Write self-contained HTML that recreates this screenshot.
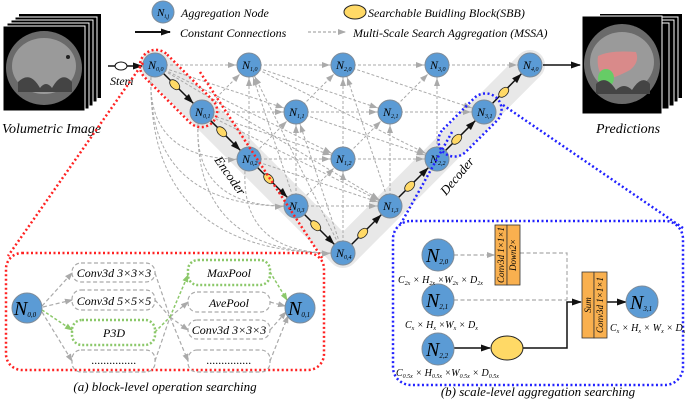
<!DOCTYPE html>
<html><head><meta charset="utf-8"><style>
html,body{margin:0;padding:0;background:#fff;}
svg{display:block;}
text{font-family:"Liberation Serif",serif;font-style:italic;}
</style></head><body>
<svg width="685" height="401" viewBox="0 0 685 401" xmlns="http://www.w3.org/2000/svg">
<defs>
<marker id="ag" markerWidth="8" markerHeight="6" refX="7" refY="3" orient="auto" markerUnits="userSpaceOnUse"><path d="M0,0 L8,3 L0,6z" fill="#aaa"/></marker>
<marker id="agn" markerWidth="8" markerHeight="6" refX="21" refY="3" orient="auto" markerUnits="userSpaceOnUse" overflow="visible"><path d="M0,0 L8,3 L0,6z" fill="#aaa"/></marker>
<marker id="ab" markerWidth="10" markerHeight="7" refX="9" refY="3.5" orient="auto" markerUnits="userSpaceOnUse"><path d="M0,0 L10,3.5 L0,7z" fill="#111"/></marker>
<marker id="abn" markerWidth="10" markerHeight="7" refX="22" refY="3.5" orient="auto" markerUnits="userSpaceOnUse" overflow="visible"><path d="M0,0 L10,3.5 L0,7z" fill="#111"/></marker>
<marker id="agr" markerWidth="8" markerHeight="6" refX="7" refY="3" orient="auto" markerUnits="userSpaceOnUse"><path d="M0,0 L8,3 L0,6z" fill="#8cc86a"/></marker>
</defs>

<!-- CT stacks -->
<g>
<rect x="19" y="14" width="82" height="84" fill="#000"/>
<rect x="15" y="17" width="82" height="85" fill="#000" stroke="#fff"/>
<rect x="11" y="20" width="82" height="86" fill="#000" stroke="#fff"/>
<rect x="7" y="23" width="82" height="86" fill="#000" stroke="#fff"/>
<rect x="3" y="26" width="82" height="85" fill="#000" stroke="#fff"/>
<ellipse cx="44" cy="68" rx="38" ry="37" fill="#6a6a6a"/>
<ellipse cx="44" cy="66" rx="32" ry="28" fill="#9a9a9a"/>
<path d="M18,82 Q30,70 40,88 Q46,80 52,88 Q62,70 72,82 L72,92 L18,92z" fill="#444"/>
<circle cx="68" cy="57" r="2" fill="#222"/>
</g>
<g>
<rect x="600" y="14" width="82" height="84" fill="#000"/>
<rect x="596" y="17" width="82" height="85" fill="#000" stroke="#fff"/>
<rect x="592" y="20" width="82" height="86" fill="#000" stroke="#fff"/>
<rect x="587" y="23" width="82" height="86" fill="#000" stroke="#fff"/>
<rect x="582" y="16" width="80" height="98" fill="#000" stroke="#fff"/>
<ellipse cx="622" cy="64" rx="38" ry="40" fill="#6a6a6a"/>
<ellipse cx="622" cy="62" rx="32" ry="30" fill="#9a9a9a"/>
<path d="M598,56 Q610,50 636,52 Q640,62 630,70 Q615,78 605,80 Q596,70 598,56z" fill="#d98a8a"/>
<ellipse cx="606" cy="78" rx="8" ry="9" fill="#66cc66"/>
<path d="M596,84 Q606,74 616,90 Q624,82 632,90 Q642,74 650,84 L650,94 L596,94z" fill="#444"/>
</g>
<text x="2" y="133" font-size="14">Volumetric Image</text>
<text x="596" y="133" font-size="14">Predictions</text>

<!-- legend -->
<circle cx="163" cy="12" r="11" fill="#5b9bd5" stroke="#7f8c99"/>
<text x="157" y="16" font-size="11">N<tspan font-size="6" dy="2">i,j</tspan></text>
<text x="181" y="17" font-size="12">Aggregation Node</text>
<ellipse cx="355" cy="12" rx="11" ry="7" fill="#ffd966" stroke="#222"/>
<text x="368" y="17" font-size="12">Searchable Buidling Block(SBB)</text>
<line x1="135" y1="32" x2="170" y2="32" stroke="#111" stroke-width="2" marker-end="url(#ab)"/>
<text x="180" y="37" font-size="12">Constant Connections</text>
<line x1="308" y1="32" x2="345" y2="32" stroke="#aaa" stroke-width="1.2" stroke-dasharray="3,2" marker-end="url(#ag)"/>
<text x="353" y="37" font-size="12">Multi-Scale Search Aggregation (MSSA)</text>

<!-- grey band -->
<polyline points="155,65 343,253 530,65" fill="none" stroke="#e8e8e8" stroke-width="30" stroke-linecap="round" stroke-linejoin="round"/>

<!-- dashed MSSA -->
<g stroke="#aaa" stroke-width="1" stroke-dasharray="3,2" fill="none" marker-end="url(#agn)">
<line x1="155" y1="65" x2="249" y2="65"/><line x1="155" y1="65" x2="296" y2="112"/><line x1="155" y1="65" x2="343" y2="159"/><line x1="155" y1="65" x2="390" y2="206"/>
<line x1="202" y1="112" x2="249" y2="65"/><line x1="202" y1="112" x2="296" y2="112"/><line x1="202" y1="112" x2="343" y2="159"/><line x1="202" y1="112" x2="390" y2="206"/>
<line x1="249" y1="159" x2="249" y2="65"/><line x1="249" y1="159" x2="296" y2="112"/><line x1="249" y1="159" x2="343" y2="159"/><line x1="249" y1="159" x2="390" y2="206"/>
<line x1="296" y1="206" x2="249" y2="65"/><line x1="296" y1="206" x2="296" y2="112"/><line x1="296" y1="206" x2="343" y2="159"/><line x1="296" y1="206" x2="390" y2="206"/>
<line x1="343" y1="253" x2="249" y2="65"/><line x1="343" y1="253" x2="296" y2="112"/><line x1="343" y1="253" x2="343" y2="159"/>
<line x1="249" y1="65" x2="343" y2="65"/><line x1="249" y1="65" x2="390" y2="112"/><line x1="249" y1="65" x2="437" y2="159"/>
<line x1="296" y1="112" x2="343" y2="65"/><line x1="296" y1="112" x2="390" y2="112"/><line x1="296" y1="112" x2="437" y2="159"/>
<line x1="343" y1="159" x2="343" y2="65"/><line x1="343" y1="159" x2="390" y2="112"/><line x1="343" y1="159" x2="437" y2="159"/>
<line x1="390" y1="206" x2="343" y2="65"/><line x1="390" y1="206" x2="390" y2="112"/>
<line x1="343" y1="65" x2="437" y2="65"/><line x1="343" y1="65" x2="484" y2="112"/>
<line x1="390" y1="112" x2="437" y2="65"/><line x1="390" y1="112" x2="484" y2="112"/>
<line x1="437" y1="159" x2="437" y2="65"/>
<line x1="437" y1="65" x2="530" y2="65"/>
<path d="M151,77 Q147,163 249,159"/>
<path d="M151,77 Q147,210 296,206"/>
<path d="M151,77 Q147,257 343,253"/>
<path d="M198,124 Q194,210 296,206"/>
<path d="M198,124 Q194,257 343,253"/>
<path d="M245,171 Q241,257 343,253"/>
</g>

<!-- solid path -->
<g stroke="#111" stroke-width="1.5" fill="none" marker-end="url(#abn)">
<line x1="155" y1="65" x2="202" y2="112"/><line x1="202" y1="112" x2="249" y2="159"/><line x1="249" y1="159" x2="296" y2="206"/><line x1="296" y1="206" x2="343" y2="253"/>
<line x1="343" y1="253" x2="390" y2="206"/><line x1="390" y1="206" x2="437" y2="159"/><line x1="437" y1="159" x2="484" y2="112"/><line x1="484" y1="112" x2="530" y2="65"/>
</g>
<g fill="#ffd966" stroke="#222" stroke-width="0.8">
<ellipse rx="6" ry="3.8" transform="translate(174.7,84.7) rotate(45)"/>
<ellipse rx="6" ry="3.8" transform="translate(221.7,131.7) rotate(45)"/>
<ellipse rx="6" ry="3.8" transform="translate(268.7,178.7) rotate(45)"/>
<ellipse rx="6" ry="3.8" transform="translate(315.7,225.7) rotate(45)"/>
<ellipse rx="6" ry="3.8" transform="translate(362.7,233.3) rotate(-45)"/>
<ellipse rx="6" ry="3.8" transform="translate(409.7,186.3) rotate(-45)"/>
<ellipse rx="6" ry="3.8" transform="translate(456.7,139.3) rotate(-45)"/>
<ellipse rx="6" ry="3.8" transform="translate(503.7,92.3) rotate(-45)"/>
</g>

<!-- stem -->
<line x1="108" y1="66" x2="142" y2="66" stroke="#111" stroke-width="1.5" marker-end="url(#ab)"/>
<ellipse cx="121" cy="66" rx="6" ry="4" fill="#fff" stroke="#111"/>
<text x="110" y="85" font-size="12">Stem</text>
<line x1="543" y1="65" x2="580" y2="65" stroke="#111" stroke-width="1.5" marker-end="url(#ab)"/>

<text transform="translate(214,160) rotate(55)" font-size="13">Encoder</text>
<text transform="translate(446,196) rotate(-50)" font-size="13">Decoder</text>

<!-- nodes -->
<g fill="#5b9bd5" stroke="#7f8c99">
<circle cx="155" cy="65" r="12"/><circle cx="202" cy="112" r="12"/><circle cx="249" cy="159" r="12"/><circle cx="296" cy="206" r="12"/><circle cx="343" cy="253" r="12"/>
<circle cx="249" cy="65" r="12"/><circle cx="296" cy="112" r="12"/><circle cx="343" cy="159" r="12"/><circle cx="390" cy="206" r="12"/>
<circle cx="343" cy="65" r="12"/><circle cx="390" cy="112" r="12"/><circle cx="437" cy="159" r="12"/>
<circle cx="437" cy="65" r="12"/><circle cx="484" cy="112" r="12"/><circle cx="530" cy="65" r="12"/>
</g>
<g font-size="12">
<text x="148" y="69">N<tspan font-size="6" dy="2">0,0</tspan></text>
<text x="195" y="116">N<tspan font-size="6" dy="2">0,1</tspan></text>
<text x="242" y="163">N<tspan font-size="6" dy="2">0,2</tspan></text>
<text x="289" y="210">N<tspan font-size="6" dy="2">0,3</tspan></text>
<text x="336" y="257">N<tspan font-size="6" dy="2">0,4</tspan></text>
<text x="242" y="69">N<tspan font-size="6" dy="2">1,0</tspan></text>
<text x="289" y="116">N<tspan font-size="6" dy="2">1,1</tspan></text>
<text x="336" y="163">N<tspan font-size="6" dy="2">1,2</tspan></text>
<text x="383" y="210">N<tspan font-size="6" dy="2">1,3</tspan></text>
<text x="336" y="69">N<tspan font-size="6" dy="2">2,0</tspan></text>
<text x="383" y="116">N<tspan font-size="6" dy="2">2,1</tspan></text>
<text x="430" y="163">N<tspan font-size="6" dy="2">2,2</tspan></text>
<text x="430" y="69">N<tspan font-size="6" dy="2">3,0</tspan></text>
<text x="477" y="116">N<tspan font-size="6" dy="2">3,1</tspan></text>
<text x="523" y="69">N<tspan font-size="6" dy="2">4,0</tspan></text>
</g>

<!-- red highlights -->
<rect x="-48" y="-16" width="96" height="32" rx="16" transform="translate(178.5,88.5) rotate(45)" fill="none" stroke="#f22" stroke-width="2.5" stroke-dasharray="2,2.5"/>
<line x1="143" y1="63" x2="8" y2="256" stroke="#f22" stroke-width="2.5" stroke-dasharray="2,2.5"/>
<line x1="200" y1="72" x2="322" y2="258" stroke="#f22" stroke-width="2.5" stroke-dasharray="2,2.5"/>
<rect x="6" y="253" width="318" height="117" rx="16" fill="#fff" stroke="#f22" stroke-width="2.5" stroke-dasharray="2,2.5"/>

<!-- blue highlights -->
<rect x="-38" y="-16" width="76" height="32" rx="16" transform="translate(470,125) rotate(-45)" fill="none" stroke="#22f" stroke-width="2.5" stroke-dasharray="2,2.5"/>
<line x1="452" y1="132" x2="394" y2="236" stroke="#22f" stroke-width="2.5" stroke-dasharray="2,2.5"/>
<line x1="503" y1="105" x2="683" y2="228" stroke="#22f" stroke-width="2.5" stroke-dasharray="2,2.5"/>
<rect x="393" y="221" width="290" height="164" rx="18" fill="#fff" stroke="#22f" stroke-width="2.5" stroke-dasharray="2,2.5"/>

<!-- panel a -->
<g fill="none" stroke="#aaa" stroke-width="1.2" stroke-dasharray="4,2.5">
<rect x="72" y="263" width="83" height="19" rx="9"/>
<rect x="72" y="290" width="83" height="20" rx="9"/>
<rect x="72" y="350" width="83" height="22" rx="9"/>
<rect x="188" y="292" width="82" height="20" rx="9"/>
<rect x="188" y="320" width="82" height="19" rx="9"/>
<rect x="188" y="350" width="82" height="22" rx="9"/>
<line x1="42" y1="306" x2="72" y2="273" marker-end="url(#ag)"/>
<line x1="43" y1="307" x2="72" y2="300" marker-end="url(#ag)"/>
<line x1="42" y1="312" x2="72" y2="361" marker-end="url(#ag)"/>
<line x1="155" y1="273" x2="170" y2="317"/>
<line x1="155" y1="300" x2="170" y2="317"/>
<line x1="155" y1="361" x2="170" y2="317"/>
<line x1="170" y1="317" x2="188" y2="302" marker-end="url(#ag)"/>
<line x1="170" y1="317" x2="188" y2="330" marker-end="url(#ag)"/>
<line x1="170" y1="317" x2="188" y2="361" marker-end="url(#ag)"/>
<line x1="270" y1="302" x2="285" y2="306" marker-end="url(#ag)"/>
<line x1="270" y1="330" x2="286" y2="312" marker-end="url(#ag)"/>
<line x1="270" y1="361" x2="288" y2="316" marker-end="url(#ag)"/>
</g>
<g fill="none" stroke="#8cc86a" stroke-width="2.5" stroke-dasharray="2,2">
<rect x="72" y="320" width="83" height="25" rx="10"/>
<rect x="188" y="260" width="82" height="25" rx="10"/>
</g>
<g fill="none" stroke="#8cc86a" stroke-width="1.5" stroke-dasharray="3,2">
<line x1="42" y1="310" x2="72" y2="330" marker-end="url(#agr)"/>
<line x1="155" y1="332" x2="170" y2="317"/>
<line x1="170" y1="317" x2="188" y2="275" marker-end="url(#agr)"/>
<line x1="270" y1="272" x2="287" y2="300" marker-end="url(#agr)"/>
</g>
<g font-size="12" text-anchor="middle">
<text x="114" y="277">Conv3d 3×3×3</text>
<text x="114" y="305">Conv3d 5×5×5</text>
<text x="114" y="337">P3D</text>
<text x="114" y="364">...............</text>
<text x="229" y="277">MaxPool</text>
<text x="229" y="307">AvePool</text>
<text x="229" y="334">Conv3d 3×3×3</text>
<text x="229" y="364">...............</text>
</g>
<circle cx="27" cy="308" r="15" fill="#5b9bd5" stroke="#7f8c99"/>
<text x="14" y="315" font-size="20">N<tspan font-size="7" dy="2">0,0</tspan></text>
<circle cx="300" cy="308" r="15" fill="#5b9bd5" stroke="#7f8c99"/>
<text x="288" y="315" font-size="20">N<tspan font-size="7" dy="2">0,1</tspan></text>
<text x="165" y="391" font-size="13" text-anchor="middle">(a) block-level operation searching</text>

<!-- panel b -->
<g fill="none" stroke="#aaa" stroke-width="1.2" stroke-dasharray="4,2.5">
<line x1="454" y1="255" x2="494" y2="255" marker-end="url(#ag)"/>
<polyline points="520,253 567,253 567,300"/>
<line x1="454" y1="300" x2="567" y2="300"/>
</g>
<line x1="454" y1="348" x2="490" y2="348" stroke="#111" stroke-width="1.5" marker-end="url(#ab)"/>
<polyline points="523,348 567,348 567,302 581,302" fill="none" stroke="#111" stroke-width="1.5" marker-end="url(#ab)"/>
<line x1="607" y1="302" x2="626" y2="302" stroke="#111" stroke-width="1.5" marker-end="url(#ab)"/>
<ellipse cx="507" cy="348" rx="16" ry="12" fill="#ffd966" stroke="#222"/>
<rect x="495" y="225" width="12" height="60" fill="#f9b04f" stroke="#333" stroke-width="0.8"/>
<rect x="507" y="225" width="13" height="60" fill="#f9b04f" stroke="#333" stroke-width="0.8"/>
<rect x="582" y="272" width="12" height="66" fill="#f9b04f" stroke="#333" stroke-width="0.8"/>
<rect x="594" y="272" width="13" height="66" fill="#f9b04f" stroke="#333" stroke-width="0.8"/>
<g font-size="9" text-anchor="middle">
<text transform="translate(504,255) rotate(-90)">Conv3d 1×1×1</text>
<text transform="translate(516,255) rotate(-90)">Down2×</text>
<text transform="translate(591,305) rotate(-90)">Sum</text>
<text transform="translate(603,305) rotate(-90)">Conv3d 1×1×1</text>
</g>
<g fill="#5b9bd5" stroke="#7f8c99">
<circle cx="438" cy="255" r="16"/><circle cx="438" cy="300" r="16"/><circle cx="438" cy="349" r="16"/><circle cx="642" cy="302" r="16"/>
</g>
<g font-size="20">
<text x="426" y="262">N<tspan font-size="7" dy="2">2,0</tspan></text>
<text x="426" y="307">N<tspan font-size="7" dy="2">2,1</tspan></text>
<text x="426" y="356">N<tspan font-size="7" dy="2">2,2</tspan></text>
<text x="630" y="309">N<tspan font-size="7" dy="2">3,1</tspan></text>
</g>
<g font-size="10">
<text x="398" y="283">C<tspan font-size="6" dy="2">2x</tspan><tspan dy="-2"> × H</tspan><tspan font-size="6" dy="2">2x</tspan><tspan dy="-2"> ×W</tspan><tspan font-size="6" dy="2">2x</tspan><tspan dy="-2"> × D</tspan><tspan font-size="6" dy="2">2x</tspan></text>
<text x="405" y="328">C<tspan font-size="6" dy="2">x</tspan><tspan dy="-2"> × H</tspan><tspan font-size="6" dy="2">x</tspan><tspan dy="-2"> ×W</tspan><tspan font-size="6" dy="2">x</tspan><tspan dy="-2"> × D</tspan><tspan font-size="6" dy="2">x</tspan></text>
<text x="396" y="376">C<tspan font-size="6" dy="2">0.5x</tspan><tspan dy="-2"> × H</tspan><tspan font-size="6" dy="2">0.5x</tspan><tspan dy="-2"> ×W</tspan><tspan font-size="6" dy="2">0.5x</tspan><tspan dy="-2"> × D</tspan><tspan font-size="6" dy="2">0.5x</tspan></text>
<text x="610" y="331">C<tspan font-size="6" dy="2">x</tspan><tspan dy="-2"> × H</tspan><tspan font-size="6" dy="2">x</tspan><tspan dy="-2"> × W</tspan><tspan font-size="6" dy="2">x</tspan><tspan dy="-2"> × D</tspan><tspan font-size="6" dy="2">x</tspan></text>
</g>
<text x="538" y="396" font-size="13" text-anchor="middle">(b) scale-level aggregation searching</text>
</svg>
</body></html>
